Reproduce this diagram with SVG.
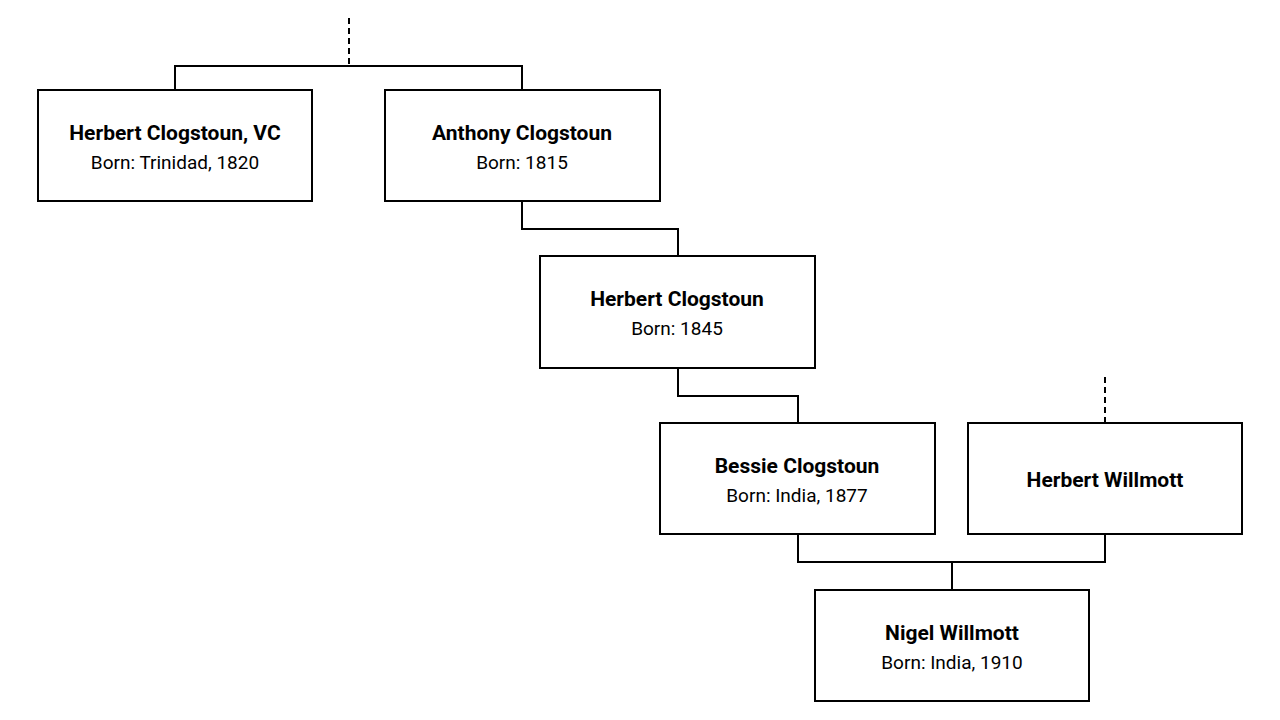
<svg xmlns="http://www.w3.org/2000/svg" width="1280" height="720" viewBox="0 0 1280 720">
<style>
.box{fill:#fff;stroke:#000;stroke-width:2}
.n{font-family:Roboto,"Liberation Sans",sans-serif;font-size:21px;font-weight:bold;text-anchor:middle;fill:#000}
.b{font-family:Roboto,"Liberation Sans",sans-serif;font-size:19px;text-anchor:middle;fill:#000}
.c{fill:none;stroke:#000;stroke-width:2}
.d{fill:none;stroke:#000;stroke-width:2;stroke-dasharray:6,4}
</style>
<rect width="1280" height="720" fill="#fff"/>
<g id="connectors">
<path class="d" d="M349 18V66"/>
<path class="c" d="M175 90V66H522V90"/>
<path class="c" d="M522 201V229H678V256"/>
<path class="c" d="M678 368V396H798V423"/>
<path class="d" d="M1105 377V423"/>
<path class="c" d="M798 534V562H1105V534M952 562V590"/>
</g>
<g id="hcvc"><rect class="box" x="38" y="90" width="274" height="111"/><text class="n" x="175" y="140">Herbert Clogstoun, VC</text><text class="b" x="175" y="169">Born: Trinidad, 1820</text></g>
<g id="anthony"><rect class="box" x="385" y="90" width="275" height="111"/><text class="n" x="522" y="140">Anthony Clogstoun</text><text class="b" x="522" y="169">Born: 1815</text></g>
<g id="herbert"><rect class="box" x="540" y="256" width="275" height="112"/><text class="n" x="677" y="306">Herbert Clogstoun</text><text class="b" x="677" y="335">Born: 1845</text></g>
<g id="bessie"><rect class="box" x="660" y="423" width="275" height="111"/><text class="n" x="797" y="473">Bessie Clogstoun</text><text class="b" x="797" y="502">Born: India, 1877</text></g>
<g id="hwillmott"><rect class="box" x="968" y="423" width="274" height="111"/><text class="n" x="1105" y="487">Herbert Willmott</text></g>
<g id="nigel"><rect class="box" x="815" y="590" width="274" height="111"/><text class="n" x="952" y="640">Nigel Willmott</text><text class="b" x="952" y="669">Born: India, 1910</text></g>
</svg>
